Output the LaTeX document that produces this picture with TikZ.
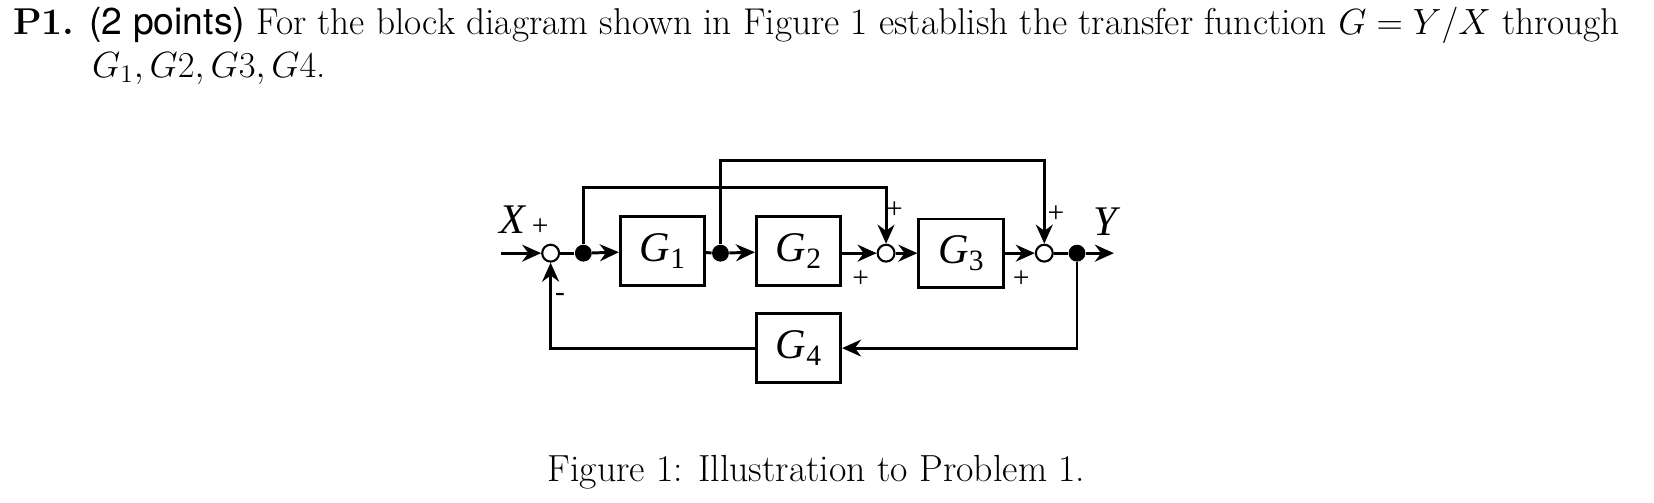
\documentclass[tikz,border=0pt]{standalone}
\usepackage{fontspec}
\setmainfont{Latin Modern Roman}
\newfontfamily\hv{TeX Gyre Heros}
\newfontfamily\tms{Liberation Serif}
\usetikzlibrary{arrows.meta}
\newcommand{\blab}[2]{{\tms\itshape #1}\raisebox{-0.35ex}{\tms\fontsize{14}{14}\selectfont #2}}
\begin{document}
\begin{tikzpicture}[x=0.5pt,y=-0.5pt,
  blk/.style={draw,line width=1.3pt,minimum width=40pt,minimum height=32.5pt,inner sep=0pt,font=\tms\fontsize{20}{20}\selectfont},
  sm/.style={circle,draw,line width=1pt,minimum size=8pt,inner sep=0pt},
  dt/.style={circle,fill,minimum size=8pt,inner sep=0pt},
  ln/.style={line width=1.4pt},
  ar/.style={ln,-{Stealth[length=9pt,width=8pt]}},
  sg/.style={font=\tms\fontsize{14}{14}\selectfont,inner sep=1pt}]
\useasboundingbox (0,0) rectangle (1568,476);
\node[anchor=base west,inner sep=0pt,font=\fontsize{17.7}{20}\selectfont] (t1) at (12,33) {\textbf{P1.} {\hv(2 points)} For the block diagram shown in Figure 1 establish the transfer function $G=Y/X$ through};
\node[anchor=base west,inner sep=0pt,font=\fontsize{17.7}{20}\selectfont] (t2) at (87,73) {$G_1,G2,G3,G4$.};
\node[font=\fontsize{17.9}{20}\selectfont,inner sep=0pt,anchor=base] (cap) at (774,456) {Figure 1: Illustration to Problem 1.};

\coordinate (xin) at (475,240);
\node[sm] (s1) at (522,240) {};
\node[dt] (d1) at (553,240) {};
\node[blk] (g1) at (628,238) {\blab{G}{1}};
\node[dt] (d2) at (683,240) {};
\node[blk] (g2) at (757,238) {\blab{G}{2}};
\node[sm] (s2) at (840,240) {};
\node[blk] (g3) at (911,240) {\blab{G}{3}};
\node[sm] (s3) at (990,240) {};
\node[dt] (d3) at (1021,240) {};
\coordinate (yout) at (1056,240);
\node[blk] (g4) at (757,330) {\blab{G}{4}};

\draw[ar] (xin) -- (s1);
\draw[ln] (s1) -- (d1);
\draw[ar] (d1) -- (g1);
\draw[ln] (g1) -- (d2);
\draw[ar] (d2) -- (g2);
\draw[ar] (g2.east|-s2) -- (s2);
\draw[ar] (s2) -- (g3.west|-s2);
\draw[ar] (g3.east|-s3) -- (s3);
\draw[ln] (s3) -- (d3);
\draw[ar] (d3) -- (yout);
\draw[ar] (d1) -- (553,178) -| (s2);
\draw[ar] (d2) -- (683,152) -| (s3);
\draw[ar] (d3) |- (g4);
\draw[ar] (g4) -| (s1);

\node[font=\tms\itshape\fontsize{20}{20}\selectfont] (xl) at (486,208) {X};
\node[sg] (p1) at (512,215) {+};
\node[sg] (m1) at (531,282) {-};
\node[sg] (p2) at (848,199) {+};
\node[sg] (p3) at (816,265) {+};
\node[sg] (p4) at (1001,203) {+};
\node[sg] (p5) at (968,265) {+};
\node[font=\tms\itshape\fontsize{20}{20}\selectfont] (yl) at (1048,210) {Y};
\end{tikzpicture}
\end{document}
